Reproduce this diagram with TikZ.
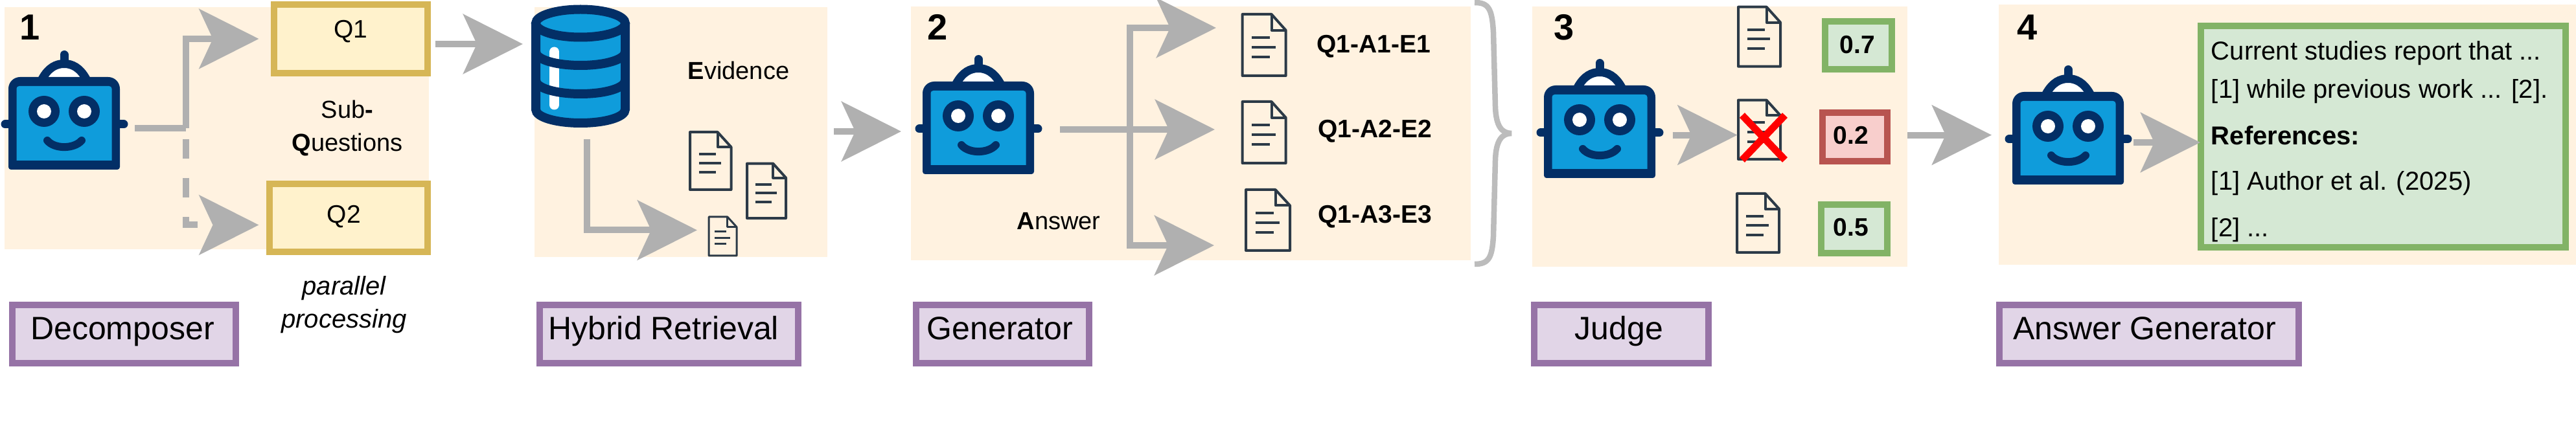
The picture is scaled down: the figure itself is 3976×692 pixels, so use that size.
\documentclass[tikz,border=0pt]{standalone}
\usepackage{fontspec}
\setmainfont{Liberation Sans}
\usetikzlibrary{arrows.meta,calc}
\definecolor{panelc}{HTML}{FFF2E0}
\definecolor{arrc}{HTML}{B0B0B0}
\definecolor{navyc}{HTML}{032F66}
\definecolor{bluec}{HTML}{0F9CDB}
\definecolor{docc}{HTML}{2C3A47}
\definecolor{yelf}{HTML}{FFF2CC}
\definecolor{yeld}{HTML}{D6B656}
\definecolor{purf}{HTML}{E1D5E7}
\definecolor{purd}{HTML}{9673A6}
\definecolor{grnf}{HTML}{D5E8D4}
\definecolor{grnd}{HTML}{82B366}
\definecolor{redf}{HTML}{F8CECC}
\definecolor{redd}{HTML}{B85450}
\newcommand{\fs}[1]{\fontsize{#1}{#1}\selectfont}
\newcommand{\moved}[2]{\hspace*{#1pt}#2\hspace*{-#1pt}}
\tikzset{
  panel/.style={fill=panelc,draw=none},
  arr/.style={draw=arrc,line width=10pt,-{Stealth[length=92pt,width=92pt,inset=21pt]}},
  plainbox/.style={line width=10pt,inner sep=0pt,font=\fs{39}},
  qbox/.style={plainbox,draw=yeld,fill=yelf},
  lab/.style={plainbox,draw=purd,fill=purf,font=\fs{50},text height=20pt,text depth=4pt,minimum height=90pt},
  gscore/.style={plainbox,draw=grnd,fill=grnf,font=\fs{39}\bfseries},
  rscore/.style={plainbox,draw=redd,fill=redf,font=\fs{39}\bfseries},
  txt/.style={inner sep=0pt,font=\fs{38}},
  num/.style={inner sep=0pt,font=\fs{56}\bfseries,anchor=base},
  ghost/.style={inner sep=0pt,draw=none,fill=none},
}
% robot: #1 name, #2 centre x, #3 vertical offset
\newcommand{\robot}[3]{%
  \node[ghost,minimum width=195pt,minimum height=184pt] (#1) at (#2,{170+#3}) {};
  \begin{scope}[shift={(#2,#3)}]
    \draw[navyc,line width=13pt,line cap=round] (-91,192) -- (-80,192) (80,192) -- (92,192);
    \draw[navyc,line width=13pt,line cap=round] (0,84.5) -- (0,100);
    \draw[navyc,line width=13pt,fill=white] (-34,122) .. controls (-24,104) and (-12,98.5) .. (0,98.5) .. controls (12,98.5) and (24,104) .. (34,122);
    \fill[navyc] (-86,200) [rounded corners=18pt] -- (-86,119) -- (86,119) [rounded corners=4pt] -- (86,262) -- (-86,262) -- cycle;
    \fill[bluec] (-73.5,200) [rounded corners=4pt] -- (-73.5,133) -- (73.5,133) [sharp corners] -- (73.5,248) -- (-73.5,248) -- cycle;
    \fill[navyc] (-31,172) circle[radius=24pt] (31,172) circle[radius=24pt];
    \fill[white] (-31,172) circle[radius=11pt] (31,172) circle[radius=11pt];
    \draw[navyc,line width=12pt,line cap=round] (-26,217) .. controls (-15,230.5) and (15,230.5) .. (27,217);
  \end{scope}}
% document icon: #1 line width, #2 name, #3 x, #4 y, #5 w, #6 h
\newcommand{\docicon}[6][4]{%
  \node[ghost,anchor=north west,minimum width=#5pt,minimum height=#6pt] (#2) at (#3,#4) {};
  \begin{scope}[shift={(#3,#4)},x=#5pt,y=-#6pt,draw=docc,line width=#1pt,line join=round]
    \draw (0,0) -- (.67,0) -- (1,.26) -- (1,1) -- (0,1) -- cycle;
    \draw (.67,0) -- (.67,.26) -- (1,.26);
    \draw (.22,.38) -- (.63,.38) (.22,.54) -- (.76,.54) (.22,.70) -- (.63,.70);
  \end{scope}}
\begin{document}
\begin{tikzpicture}[x=1pt,y=-1pt]
\useasboundingbox (0,0) rectangle (3976,692);
% panels
\fill[panel] (7,11) rectangle (662,385);
\fill[panel] (824.5,11.5) rectangle (1276.5,397);
\fill[panel] (1405.5,10) rectangle (2270,402);
\fill[panel] (2365,10) rectangle (2944,412);
\fill[panel] (3085,7) rectangle (3976,409.5);
% numbers
\node[num] (n1) at (46,62) {1};
\node[num] (n2) at (1447,62) {2};
\node[num] (n3) at (2414,62) {3};
\node[num] (n4) at (3129,62) {4};
% robots
\robot{robot1}{99}{0}
\robot{robot2}{1510}{7}
\robot{robot3}{2469}{13}
\robot{robot4}{3192}{23}
% question boxes
\node[qbox,minimum width=237pt,minimum height=106pt,text height=10pt,text depth=12pt] (q1) at (541.5,60) {Q1};
\node[qbox,minimum width=244pt,minimum height=105pt,text height=20pt,text depth=4pt] (q2) at (538,336.5) {\moved{-7}{Q2}};
\node[txt,anchor=north,align=center,font=\fontsize{38}{50.5}\selectfont] (subq) at (536,155) {Sub\textbf{-}\\\textbf{Q}uestions};
\node[txt,anchor=north,align=center,font=\fontsize{40}{51}\selectfont\itshape] (par) at (531,426) {parallel\\processing};
% database
\node[ghost,minimum width=153pt,minimum height=190pt] (db) at (895.5,102) {};
\fill[bluec] (827,36) -- (827,169) .. controls (827,181) and (858,190) .. (896,190) .. controls (934,190) and (965,181) .. (965,169) -- (965,36) -- cycle;
\draw[white,line width=15pt,line cap=round] (855.5,80) -- (855.5,162);
\begin{scope}[navyc,line width=14pt]
  \draw (827,80) .. controls (827,92) and (858,101) .. (896,101) .. controls (934,101) and (965,92) .. (965,80);
  \draw (827,124) .. controls (827,136) and (858,145) .. (896,145) .. controls (934,145) and (965,136) .. (965,124);
  \draw (827,36) -- (827,169) .. controls (827,181) and (858,190) .. (896,190) .. controls (934,190) and (965,181) .. (965,169) -- (965,36);
  \draw[fill=bluec] (896,36) ellipse[x radius=69pt,y radius=21.5pt];
\end{scope}
\node[txt,anchor=base] (evid) at (1140,122.5) {\textbf{E}vidence};
% retrieved documents
\docicon{da}{1065}{204}{63.5}{89}
\docicon{db2}{1153}{252.6}{60}{84.5}
\docicon[3]{dc}{1094}{335}{43}{60}
% generator documents
\docicon{g1}{1917.6}{22}{67}{95}
\docicon{g2}{1917.6}{157}{67}{95}
\docicon{g3}{1923}{293}{68}{94}
\node[txt,anchor=base,font=\fs{39}\bfseries] (t1) at (2120,82) {Q1-A1-E1};
\node[txt,anchor=base,font=\fs{39}\bfseries] (t2) at (2122,213) {Q1-A2-E2};
\node[txt,anchor=base,font=\fs{39}\bfseries] (t3) at (2122,345) {Q1-A3-E3};
\node[txt,anchor=base] (ans) at (1634,355) {\textbf{A}nswer};
% judge documents
\docicon{j1}{2683}{10.7}{65}{92}
\docicon{j2}{2683}{154.6}{65}{91.4}
\docicon{j3}{2681}{299}{65}{91}
\draw[red,line width=11pt] (2689,178) -- (2755,247) (2755,178) -- (2689,247);
\node[gscore,minimum width=103pt,minimum height=74.5pt,text height=26pt,text depth=2pt] (s1) at (2868.5,70.25) {\moved{-1.5}{0.7}};
\node[rscore,minimum width=100pt,minimum height=75pt,text height=24pt,text depth=2.6pt] (s2) at (2863,212) {\moved{-6}{0.2}};
\node[gscore,minimum width=102pt,minimum height=75pt,text height=24pt,text depth=2pt] (s3) at (2862,353.5) {\moved{-5}{0.5}};
% answer box
\node[draw=grnd,fill=grnf,line width=10pt,inner sep=0pt,minimum width=563pt,minimum height=342pt] (final) at (3678.5,211) {};
\node[txt,anchor=north west,align=left,font=\fontsize{40}{59}\selectfont] (finaltxt) at (3412.7,63) {Current studies report that ...\\[0pt]
[1] while previous work ... [2].\\[13pt]
\textbf{References:}\\[11pt]
[1] Author et al. (2025)\\[13pt]
[2] ...};
% labels
\node[lab,minimum width=345pt] (l1) at (191.5,516) {\moved{-2.5}{Decomposer}};
\node[lab,minimum width=399.5pt] (l2) at (1032.25,516) {\moved{-8}{Hybrid Retrieval}};
\node[lab,minimum width=267pt] (l3) at (1547.5,516) {\moved{-4}{Generator}};
\node[lab,minimum width=269pt] (l4) at (2502.5,516) {\moved{-3.5}{Judge}};
\node[lab,minimum width=462pt] (l5) at (3317,516) {\moved{-7}{Answer Generator}};
% connector ends
\coordinate (a1) at (208,198);
\coordinate (a1k) at (287,198);
\coordinate (a1t) at (399.5,60);
\coordinate (a2s) at (287,215);
\coordinate (a2t) at (399.5,347.5);
\coordinate (b1) at (672,68);
\coordinate (b1t) at (807,68);
\coordinate (c1) at (906,215);
\coordinate (c1t) at (1076,355.5);
\coordinate (d1) at (1287,203);
\coordinate (d1t) at (1391,203);
\coordinate (e0) at (1636,200);
\coordinate (e1k) at (1743.5,200);
\coordinate (e1t) at (1877,43);
\coordinate (e2t) at (1875,200);
\coordinate (e3t) at (1874,379);
\coordinate (f1) at (2581.5,208.6);
\coordinate (f1t) at (2681.5,208.6);
\coordinate (g1s) at (2944,208.6);
\coordinate (g1t) at (3074,208.6);
\coordinate (h1) at (3292.5,220);
\coordinate (h1t) at (3396,220);
% connectors
\draw[draw=arrc,line width=10pt] (a1) -- (a1k);
\draw[arr] (a1k) |- (a1t);
\draw[arr,dash pattern=on 30pt off 30pt] (a2s) |- (a2t);
\draw[arr] (b1) -- (b1t);
\draw[arr] (c1) |- (c1t);
\draw[arr] (d1) -- (d1t);
\draw[arr] (e0) -- (e2t);
\draw[arr] (e1k) |- (e1t);
\draw[arr] (e1k) |- (e3t);
\draw[arr] (f1) -- (f1t);
\draw[arr] (g1s) -- (g1t);
\draw[arr] (h1) -- (h1t);
% brace
\draw[draw=arrc!85!white,line width=8.5pt] (2276,4) .. controls (2298,4) and (2303,14) .. (2305,50) -- (2308,165) .. controls (2309,195) and (2318,206) .. (2333,206) .. controls (2318,206) and (2309,217) .. (2308,247) -- (2305,365) .. controls (2303,398) and (2298,408) .. (2276,408);
\end{tikzpicture}
\end{document}
